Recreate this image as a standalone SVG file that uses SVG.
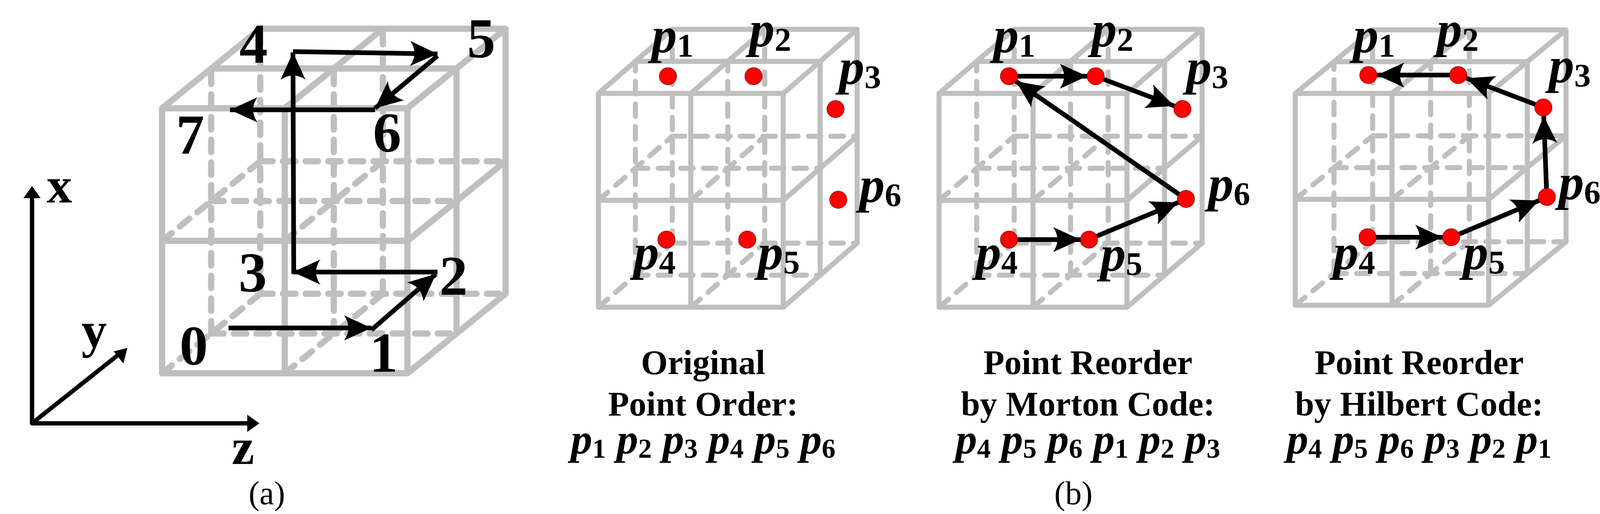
<svg xmlns="http://www.w3.org/2000/svg" width="4108" height="1315" viewBox="0 0 4108 1315">
<style>
.s{stroke:#bfbfbf;fill:none;stroke-linecap:round;stroke-linejoin:round;vector-effect:non-scaling-stroke}
.d{stroke-dasharray:32 26}
.ar{stroke:#000;stroke-width:12;fill:none;marker-end:url(#ah)}
.dot{fill:#ff0000;stroke:#8b0000;stroke-width:1.5}
.t{font-family:"Liberation Serif",serif;font-weight:bold;fill:#000}
.p{font-family:"Liberation Serif",serif;font-weight:bold;font-style:italic;fill:#000}
.sub{font-style:normal}
</style>
<defs>
<marker id="ah" markerUnits="userSpaceOnUse" markerWidth="90" markerHeight="90" viewBox="-75 -45 90 90" refX="0" refY="0" orient="auto">
<path d="M0,0 L-70,-32 Q-48,0 -70,32 Z" fill="#000"/>
</marker>
<g id="cube">
<path class="s" d="M0,0H1M0,-.5H1M0,-1H1M0,0V-1M.5,0V-1M1,0V-1M0,-1L.4,-1.3M.5,-1L.9,-1.3M1,-1L1.4,-1.3M.2,-1.15H1.2M.4,-1.3H1.4M1,0L1.4,-.3M1,-.5L1.4,-.8M1.2,-.15V-1.15M1.4,-.3V-1.3"/>
<path class="s d" d="M.2,-.15H1.2M.4,-.3H1.4M.2,-.65H1.2M.4,-.8H1.4M.2,-.15V-1.15M.4,-.3V-1.3M.7,-.15V-1.15M.9,-.3V-1.3M0,0L.4,-.3M.5,0L.9,-.3M0,-.5L.4,-.8M.5,-.5L.9,-.8"/>
</g>
</defs>

<g id="cube-a" style="stroke-width:16"><use href="#cube" transform="translate(415,955) scale(628,678)"/></g>
<g id="cube-b1" style="stroke-width:13"><use href="#cube" transform="translate(1532,786) scale(473,547)"/></g>
<g id="cube-b2" style="stroke-width:13"><use href="#cube" transform="translate(2404,786) scale(481,547)"/></g>
<g id="cube-b3" style="stroke-width:13"><use href="#cube" transform="translate(3316,781) scale(495,542)"/></g>

<g id="axes">
<path d="M82,1083V500M82,1083H640M82,1083L305,906" stroke="#000" stroke-width="11" fill="none" stroke-linecap="round"/>
<path d="M82,476L60,507H104Z M664,1083L633,1061V1105Z M326,890L291,899L316,930Z" fill="#000"/>
<text class="t" x="152" y="518" font-size="130" text-anchor="middle">x</text>
<text class="t" x="241" y="888" font-size="130" text-anchor="middle">y</text>
<text class="t" x="622" y="1187" font-size="130" text-anchor="middle">z</text>
</g>

<g id="labels-a" class="t" font-size="145" text-anchor="middle">
<text x="649" y="161">4</text>
<text x="1232" y="147">5</text>
<text x="487" y="393">7</text>
<text x="991" y="388">6</text>
<text x="647" y="746">3</text>
<text x="1161" y="754">2</text>
<text x="496" y="933">0</text>
<text x="982" y="951">1</text>
</g>

<g id="connectors">
<line class="ar" x1="585" y1="839" x2="951" y2="839"/>
<line class="ar" x1="951" y1="844" x2="1116" y2="701"/>
<line class="ar" x1="1120" y1="696" x2="750" y2="696"/>
<line class="ar" x1="752" y1="701" x2="750" y2="134"/>
<line class="ar" x1="750" y1="132" x2="1120" y2="138"/>
<line class="ar" x1="1120" y1="143" x2="960" y2="277"/>
<line class="ar" x1="960" y1="281" x2="589" y2="281"/>

<line class="ar" x1="2605" y1="613" x2="2766" y2="613"/>
<line class="ar" x1="2808" y1="604" x2="3016" y2="518"/>
<line class="ar" x1="3018" y1="497" x2="2601" y2="208"/>
<line class="ar" x1="2605" y1="195" x2="2783" y2="195"/>
<line class="ar" x1="2826" y1="203" x2="3006" y2="271"/>

<line class="ar" x1="3523" y1="607" x2="3693" y2="607"/>
<line class="ar" x1="3735" y1="599" x2="3940" y2="513"/>
<line class="ar" x1="3959" y1="482" x2="3952" y2="297"/>
<line class="ar" x1="3930" y1="267" x2="3754" y2="200"/>
<line class="ar" x1="3711" y1="192" x2="3525" y2="192"/>
</g>

<g id="points-b1">
<circle class="dot" cx="1710" cy="195" r="22"/><circle class="dot" cx="1929" cy="195" r="22"/><circle class="dot" cx="2139" cy="279" r="22"/>
<circle class="dot" cx="2146" cy="511" r="22"/><circle class="dot" cx="1706" cy="613" r="22"/><circle class="dot" cx="1913" cy="613" r="22"/>
<g class="p" font-size="130">
<text x="1668" y="133">p<tspan class="sub" font-size="85" dy="12">1</tspan></text>
<text x="1918" y="118">p<tspan class="sub" font-size="85" dy="12">2</tspan></text>
<text x="2148" y="214">p<tspan class="sub" font-size="85" dy="12">3</tspan></text>
<text x="2200" y="516">p<tspan class="sub" font-size="85" dy="12">6</tspan></text>
<text x="1622" y="688">p<tspan class="sub" font-size="85" dy="12">4</tspan></text>
<text x="1940" y="688">p<tspan class="sub" font-size="85" dy="12">5</tspan></text>
</g>
</g>
<g id="points-b2">
<circle class="dot" cx="2583" cy="195" r="22"/><circle class="dot" cx="2805" cy="195" r="22"/><circle class="dot" cx="3027" cy="279" r="22"/>
<circle class="dot" cx="3036" cy="509" r="22"/><circle class="dot" cx="2583" cy="613" r="22"/><circle class="dot" cx="2788" cy="613" r="22"/>
<g class="p" font-size="130">
<text x="2543" y="133">p<tspan class="sub" font-size="85" dy="12">1</tspan></text>
<text x="2794" y="118">p<tspan class="sub" font-size="85" dy="12">2</tspan></text>
<text x="3037" y="214">p<tspan class="sub" font-size="85" dy="12">3</tspan></text>
<text x="3093" y="513">p<tspan class="sub" font-size="85" dy="12">6</tspan></text>
<text x="2498" y="688">p<tspan class="sub" font-size="85" dy="12">4</tspan></text>
<text x="2817" y="692">p<tspan class="sub" font-size="85" dy="12">5</tspan></text>
</g>
</g>
<g id="points-b3">
<circle class="dot" cx="3503" cy="192" r="22"/><circle class="dot" cx="3733" cy="192" r="22"/><circle class="dot" cx="3951" cy="275" r="22"/>
<circle class="dot" cx="3960" cy="504" r="22"/><circle class="dot" cx="3501" cy="607" r="22"/><circle class="dot" cx="3715" cy="607" r="22"/>
<g class="p" font-size="130">
<text x="3464" y="133">p<tspan class="sub" font-size="85" dy="12">1</tspan></text>
<text x="3678" y="118">p<tspan class="sub" font-size="85" dy="12">2</tspan></text>
<text x="3965" y="210">p<tspan class="sub" font-size="85" dy="12">3</tspan></text>
<text x="3990" y="509">p<tspan class="sub" font-size="85" dy="12">6</tspan></text>
<text x="3413" y="688">p<tspan class="sub" font-size="85" dy="12">4</tspan></text>
<text x="3745" y="688">p<tspan class="sub" font-size="85" dy="12">5</tspan></text>
</g>
</g>

<g id="captions" text-anchor="middle">
<text class="t" x="1800" y="957" font-size="88">Original</text>
<text class="t" x="1800" y="1063" font-size="88">Point Order:</text>
<text class="p" x="1800" y="1161" font-size="110">p<tspan class="sub" font-size="70" dy="10">1</tspan><tspan dy="-10"> p</tspan><tspan class="sub" font-size="70" dy="10">2</tspan><tspan dy="-10"> p</tspan><tspan class="sub" font-size="70" dy="10">3</tspan><tspan dy="-10"> p</tspan><tspan class="sub" font-size="70" dy="10">4</tspan><tspan dy="-10"> p</tspan><tspan class="sub" font-size="70" dy="10">5</tspan><tspan dy="-10"> p</tspan><tspan class="sub" font-size="70" dy="10">6</tspan></text>
<text class="t" x="2785" y="957" font-size="88">Point Reorder</text>
<text class="t" x="2785" y="1063" font-size="88">by Morton Code:</text>
<text class="p" x="2785" y="1161" font-size="110">p<tspan class="sub" font-size="70" dy="10">4</tspan><tspan dy="-10"> p</tspan><tspan class="sub" font-size="70" dy="10">5</tspan><tspan dy="-10"> p</tspan><tspan class="sub" font-size="70" dy="10">6</tspan><tspan dy="-10"> p</tspan><tspan class="sub" font-size="70" dy="10">1</tspan><tspan dy="-10"> p</tspan><tspan class="sub" font-size="70" dy="10">2</tspan><tspan dy="-10"> p</tspan><tspan class="sub" font-size="70" dy="10">3</tspan></text>
<text class="t" x="3633" y="957" font-size="88">Point Reorder</text>
<text class="t" x="3633" y="1063" font-size="88">by Hilbert Code:</text>
<text class="p" x="3633" y="1161" font-size="110">p<tspan class="sub" font-size="70" dy="10">4</tspan><tspan dy="-10"> p</tspan><tspan class="sub" font-size="70" dy="10">5</tspan><tspan dy="-10"> p</tspan><tspan class="sub" font-size="70" dy="10">6</tspan><tspan dy="-10"> p</tspan><tspan class="sub" font-size="70" dy="10">3</tspan><tspan dy="-10"> p</tspan><tspan class="sub" font-size="70" dy="10">2</tspan><tspan dy="-10"> p</tspan><tspan class="sub" font-size="70" dy="10">1</tspan></text>
<text x="683" y="1290" font-size="84" font-family="Liberation Serif, serif">(a)</text>
<text x="2748" y="1290" font-size="84" font-family="Liberation Serif, serif">(b)</text>
</g>
</svg>
